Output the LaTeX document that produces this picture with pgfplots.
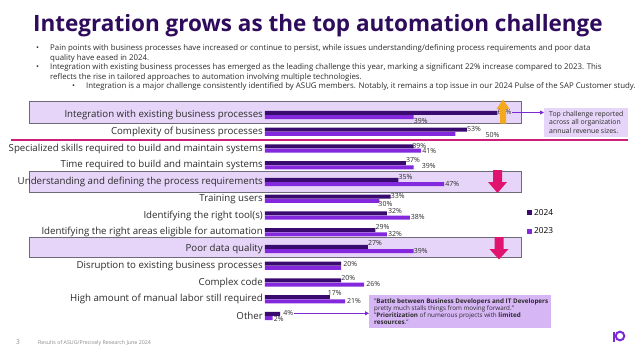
\documentclass[border=0pt]{standalone}
\usepackage{pgfplots}
\pgfplotsset{compat=1.18}
\usepackage{pgfplotstable}
\usepackage{fontspec}
\setmainfont{Open Sans}
\usetikzlibrary{arrows.meta}
\definecolor{dk}{HTML}{3A0B6E}
\definecolor{pu}{HTML}{8328DC}
\definecolor{ttl}{HTML}{2F0B5C}
\definecolor{hl}{HTML}{E6D5F8}
\definecolor{hlb}{HTML}{6F6A78}
\definecolor{cb}{HTML}{D7B6F6}
\definecolor{mag}{HTML}{E0136E}
\definecolor{magl}{HTML}{CC1F7A}
\definecolor{org}{HTML}{F3A81E}
\definecolor{txt}{HTML}{2B2B2B}
\definecolor{arr}{HTML}{7B2BD6}
\definecolor{ft}{HTML}{8A8A8A}

\pgfplotstableread{
row v24 v23 dxa dya dxb dyb sb
0 61 39 0 1 0 -3.5 1
1 53 50 0 0.75 30 -1 1
2 39 41 -1.5 0 1 -0.5 1
3 37 39 0 3 8 0.8 1
4 35 47 0 2.5 1 0 1
5 33 30 0 1 -1 -3.5 1
6 32 38 1 2.5 1 0.5 1
7 29 32 0 3 1 0 1
8 27 39 0 3.5 0 0.5 1
9 20 20 2 0 0 0 0
10 20 26 0 2.5 2 0.5 1
11 17 21 -2 4 2 0 1
12 4 2 3 0.5 1 -1 1
}\datatable

\begin{document}
\begin{tikzpicture}
\useasboundingbox (0,0) rectangle (638pt,-359pt);
% title
\node[anchor=base west, inner sep=0pt, font=\fontsize{22.5}{26}\selectfont\bfseries, text=ttl] at (33pt,-31pt) {Integration grows as the top automation challenge};
% bullets
\begin{scope}[every node/.style={anchor=base west, inner sep=0pt, font=\fontsize{7.85}{8}\selectfont, text=txt}]
\node at (36pt,-50.5pt) {\textbullet};
\node at (50pt,-50.5pt) {Pain points with business processes have increased or continue to persist, while issues understanding/defining process requirements and poor data};
\node at (50pt,-60pt) {quality have eased in 2024.};
\node at (36pt,-69.5pt) {\textbullet};
\node at (50pt,-69.5pt) {Integration with existing business processes has emerged as the leading challenge this year, marking a significant 22\% increase compared to 2023. This};
\node at (50pt,-79pt) {reflects the rise in tailored approaches to automation involving multiple technologies.};
\node at (72pt,-88.5pt) {\textbullet};
\node at (86pt,-88.5pt) {Integration is a major challenge consistently identified by ASUG members. Notably, it remains a top issue in our 2024 Pulse of the SAP Customer study.};
\end{scope}
% highlight boxes
\draw[hlb, fill=hl, line width=0.6pt] (29.5pt,-101.5pt) rectangle (521pt,-123.5pt);
\draw[hlb, fill=hl, line width=0.6pt] (29.5pt,-171pt) rectangle (521pt,-192pt);
\draw[hlb, fill=hl, line width=0.6pt] (29.5pt,-237pt) rectangle (521pt,-257pt);
% magenta separator
\draw[magl, line width=1.2pt] (11pt,-140pt) -- (628pt,-140pt);

\begin{axis}[
  at={(265pt,-106.625pt)}, anchor=north west,
  scale only axis, width=381pt, height=217.75pt,
  xmin=0, xmax=100, ymin=-0.5, ymax=12.5, y dir=reverse,
  axis line style={draw=none}, tick style={draw=none}, major tick length=0pt,
  xtick=\empty, ytick={0,...,12},
  yticklabels={Integration with existing business processes,
    Complexity of business processes,
    Specialized skills required to build and maintain systems,
    Time required to build and maintain systems,
    Understanding and defining the process requirements,
    Training users,
    Identifying the right tool(s),
    Identifying the right areas eligible for automation,
    Poor data quality,
    Disruption to existing business processes,
    Complex code,
    High amount of manual labor still required,
    Other},
  yticklabel style={font=\fontsize{9.7}{10}\selectfont, text=txt, inner sep=0pt, xshift=-2pt},
  clip=false,
  /pgf/number format/assume math mode=true,
  legend style={at={(0.688,0.47)}, anchor=west, draw=none, fill=none,
    font=\fontsize{8.3}{9}\selectfont, row sep=7pt, inner sep=0pt,
    cells={anchor=west}},
  legend image code/.code={\fill[#1] (0pt,-2.4pt) rectangle (4.8pt,2.4pt);},
]
\addplot[xbar, bar width=4pt, bar shift=0pt, fill=dk, draw=none, point meta=x,
  visualization depends on={\thisrow{dxa}\as\dxA},
  visualization depends on={\thisrow{dya}\as\dyA},
  nodes near coords={\pgfmathprintnumber{\pgfplotspointmeta}\%},
  every node near coord/.append style={anchor=west, inner sep=0pt, xshift=\dxA pt, yshift=\dyA pt, font=\fontsize{7}{8}\selectfont, text=txt}]
  table[x=v24, y expr=\thisrow{row}-0.12]{\datatable};
\addlegendentry{2024}
\addplot[xbar, bar width=4pt, bar shift=0pt, fill=pu, draw=none, point meta=x,
  visualization depends on={\thisrow{dxb}\as\dxB},
  visualization depends on={\thisrow{dyb}\as\dyB},
  visualization depends on={\thisrow{sb}\as\sB},
  nodes near coords={\ifdim\sB pt>0.5pt\pgfmathprintnumber{\pgfplotspointmeta}\%\fi},
  every node near coord/.append style={anchor=west, inner sep=0pt, xshift=\dxB pt, yshift=\dyB pt, font=\fontsize{7}{8}\selectfont, text=txt}]
  table[x=v23, y expr=\thisrow{row}+0.12]{\datatable};
\addlegendentry{2023}
\end{axis}

% arrows over the bars
\fill[org] (500pt,-123.5pt) -- (500pt,-109pt) -- (496.5pt,-109pt) -- (503pt,-99.5pt) -- (509.5pt,-109pt) -- (506pt,-109pt) -- (506pt,-123.5pt) -- cycle;
\fill[mag] (493pt,-170pt) -- (502pt,-170pt) -- (502pt,-182pt) -- (507pt,-182pt) -- (497.5pt,-193pt) -- (488pt,-182pt) -- (493pt,-182pt) -- cycle;
\fill[mag] (494.5pt,-237pt) -- (503.5pt,-237pt) -- (503.5pt,-249pt) -- (508.5pt,-249pt) -- (499pt,-259.5pt) -- (489.5pt,-249pt) -- (494.5pt,-249pt) -- cycle;

% callout 1
\fill[hl] (544pt,-108pt) rectangle (628pt,-137pt);
\draw[arr, line width=0.8pt, -{Triangle[length=4pt,width=4pt]}] (512pt,-112.5pt) -- (544pt,-112.5pt);
\begin{scope}[every node/.style={anchor=base west, inner sep=0pt, font=\fontsize{6.9}{7}\selectfont, text=txt}]
\node at (549pt,-116pt) {Top challenge reported};
\node at (549pt,-124.6pt) {across all organization};
\node at (549pt,-133.4pt) {annual revenue sizes.};
\end{scope}

% callout 2
\fill[cb] (369pt,-295pt) rectangle (551pt,-328pt);
\draw[arr, line width=0.8pt, -{Triangle[length=4pt,width=4pt]}] (294pt,-313.3pt) -- (369pt,-313.3pt);
\begin{scope}[every node/.style={anchor=base west, inner sep=0pt, font=\fontsize{6.3}{7}\selectfont, text=txt}]
\node at (374pt,-303.2pt) {"\textbf{Battle between Business Developers and IT Developers}};
\node at (374pt,-310.5pt) {pretty much stalls things from moving forward."};
\node at (374pt,-317.7pt) {"\textbf{Prioritization} of numerous projects with \textbf{limited}};
\node at (374pt,-324.7pt) {\textbf{resources}."};
\end{scope}

% footer
\node[anchor=base west, inner sep=0pt, font=\fontsize{6.5}{7}\selectfont, text=ft] at (16pt,-344pt) {3};
\node[anchor=base west, inner sep=0pt, font=\fontsize{5.3}{6}\selectfont, text=ft] at (38pt,-344pt) {Results of ASUG/Precisely Research June 2024};
% logo
\draw[arr, line width=2.2pt] (613.8pt,-331.5pt) -- (613.8pt,-342pt);
\draw[arr, line width=2pt] (620pt,-336pt) circle (4.3pt);
\end{tikzpicture}
\end{document}
